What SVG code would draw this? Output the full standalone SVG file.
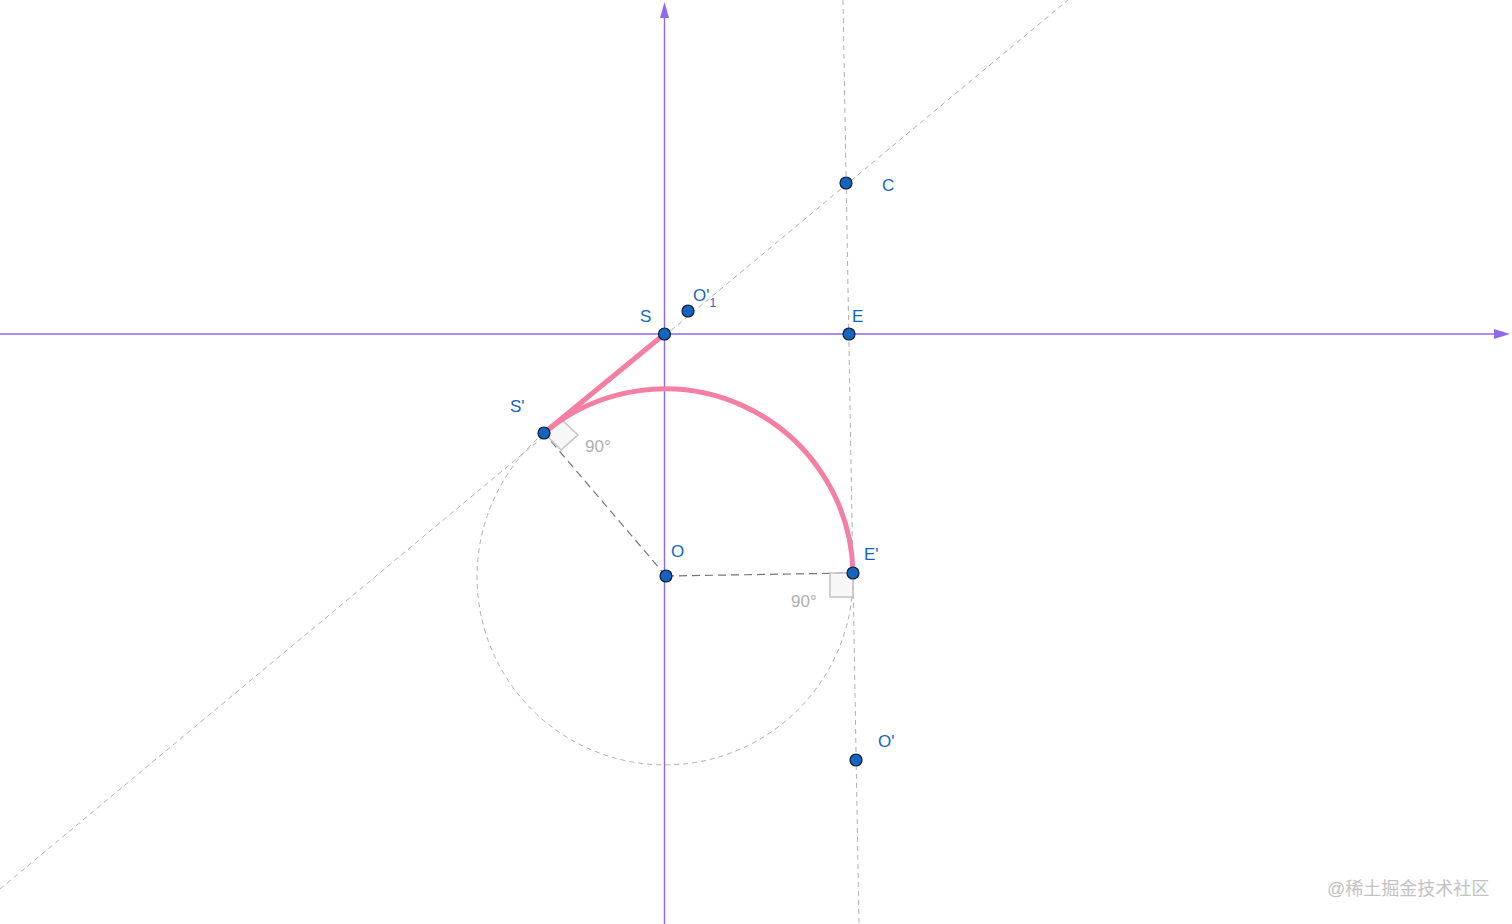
<svg xmlns="http://www.w3.org/2000/svg" width="1512" height="924" viewBox="0 0 1512 924">
<style>
.axis{stroke:#8d68f2;stroke-width:1.4;fill:none}
.guide{stroke:#b0b0b0;stroke-width:1;stroke-dasharray:5 4;fill:none}
.radius{stroke:#777;stroke-width:1.2;stroke-dasharray:8 5;fill:none}
.pink{stroke:#f47fa4;stroke-width:5;fill:none;stroke-linecap:round}
.ra{fill:#f2f2f2;fill-opacity:0.6;stroke:#c4c4c4;stroke-width:1.5}
.pt{fill:#1565c0;stroke:#0d1b2e;stroke-width:1.2}
.lbl{font-family:"Liberation Sans",Arial,sans-serif;font-size:17px;fill:#1565c0}
.ang{font-family:"Liberation Sans",Arial,sans-serif;font-size:17px;fill:#b0b0b0}
.wm{font-family:"Liberation Sans","Noto Sans CJK SC",sans-serif;font-size:18px;fill:#c2c2c2}
</style>
<rect width="1512" height="924" fill="#ffffff"/>
<g id="connectors">
<line class="guide" x1="0" y1="889" x2="1068" y2="0"/>
<line class="guide" x1="843" y1="0" x2="859" y2="924"/>
<path class="guide" d="M544,433 A188,188 0 1,0 853,573"/>
<line class="radius" x1="666" y1="576" x2="544" y2="433"/>
<line class="radius" x1="666" y1="576" x2="853" y2="573"/>
<line class="axis" x1="0" y1="334" x2="1496" y2="334"/>
<polygon fill="#8d68f2" points="1510,334 1494,329 1494,339"/>
<line class="axis" x1="664.5" y1="924" x2="664.5" y2="16"/>
<polygon fill="#8d68f2" points="664.5,2 660,18 669,18"/>
<polygon class="ra" points="544,433 561,419 578,435 561,450"/>
<polygon class="ra" points="853,573 830,573 830,597 853,597"/>
<line class="pink" x1="664.5" y1="334" x2="544" y2="433"/>
<path class="pink" d="M544,433 A188,188 0 0,1 853,573"/>
</g>
<g id="node-C"><circle class="pt" cx="846" cy="183" r="6"/><text class="lbl" x="882" y="191">C</text></g>
<g id="node-O1"><circle class="pt" cx="688" cy="311" r="6"/><text class="lbl" x="693" y="301">O'<tspan font-size="12" dy="6">1</tspan></text></g>
<g id="node-S"><circle class="pt" cx="664.5" cy="334" r="6"/><text class="lbl" x="640" y="322">S</text></g>
<g id="node-E"><circle class="pt" cx="849" cy="334" r="6"/><text class="lbl" x="852" y="322">E</text></g>
<g id="node-S1"><circle class="pt" cx="544" cy="433" r="6"/><text class="lbl" x="510" y="412">S'</text></g>
<g id="node-O"><circle class="pt" cx="666" cy="576" r="6"/><text class="lbl" x="671" y="557">O</text></g>
<g id="node-E1"><circle class="pt" cx="853" cy="573" r="6"/><text class="lbl" x="864" y="560">E'</text></g>
<g id="node-O2"><circle class="pt" cx="856" cy="760" r="6"/><text class="lbl" x="878" y="747">O'</text></g>
<text class="ang" x="585" y="452">90°</text>
<text class="ang" x="791" y="607">90°</text>
<text class="wm" x="1327" y="895">@稀土掘金技术社区</text>
</svg>
